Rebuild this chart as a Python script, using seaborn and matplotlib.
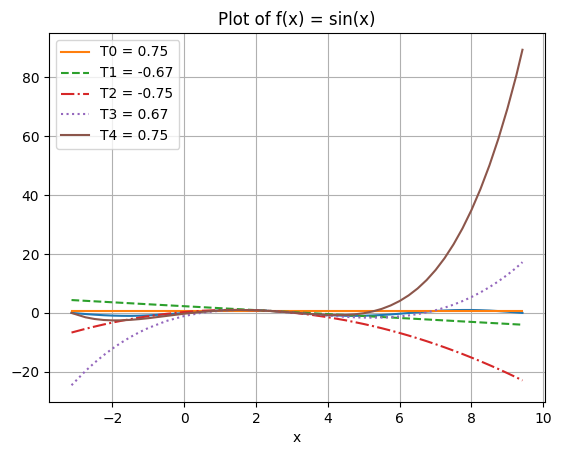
import matplotlib
matplotlib.use("Agg")
import matplotlib.pyplot as plt
import seaborn as sns

# x positions (from -pi to 3*pi)
x_vals = [-3.14, -2.75, -2.5, -2.25, -2.0, -1.75, -1.5, -1.25, -1.0,
          -0.5, 0.0, 0.5, 1.0, 1.5, 2.0, 2.5, 3.0, 3.5, 4.0, 4.5,
          4.75, 5.0, 5.25, 5.5, 5.75, 6.0, 6.25, 6.5, 6.75, 7.0,
          7.25, 7.5, 7.75, 8.0, 8.25, 8.5, 8.75, 9.0, 9.25, 9.42]

# f(x) = sin(x)
f_vals = [0.0, -0.38, -0.60, -0.78, -0.91, -0.98, -1.0, -0.95, -0.84,
          -0.48, 0.0, 0.48, 0.84, 1.0, 0.91, 0.60, 0.14, -0.35, -0.76, -0.98,
          -1.0, -0.96, -0.86, -0.71, -0.51, -0.28, -0.03, 0.22, 0.45, 0.66,
          0.82, 0.94, 0.99, 0.99, 0.92, 0.80, 0.62, 0.41, 0.17, 0.0]

# partial sums
t0_vals = [0.75] * len(x_vals)
t1_vals = [4.37, 4.11, 3.94, 3.78, 3.61, 3.44, 3.28, 3.11, 2.94,
           2.61, 2.28, 1.95, 1.61, 1.28, 0.95, 0.61, 0.28, -0.05, -0.39, -0.72,
           -0.89, -1.05, -1.22, -1.39, -1.55, -1.72, -1.89, -2.05, -2.22, -2.39,
           -2.55, -2.72, -2.89, -3.05, -3.22, -3.39, -3.55, -3.72, -3.89, -4.0]
t2_vals = [-6.67, -5.40, -4.65, -3.94, -3.28, -2.67, -2.11, -1.59, -1.12,
           -0.31, 0.31, 0.74, 0.98, 1.04, 0.91, 0.60, 0.10, -0.59, -1.46, -2.52,
           -3.13, -3.77, -4.47, -5.20, -5.99, -6.82, -7.70, -8.63, -9.60, -10.62,
           -11.69, -12.80, -13.96, -15.17, -16.42, -17.72, -19.06, -20.46, -21.90, -22.93]
t3_vals = [-24.56, -19.70, -16.93, -14.40, -12.11, -10.05, -8.20, -6.56, -5.11,
           -2.75, -1.05, 0.09, 0.74, 0.98, 0.91, 0.60, 0.13, -0.40, -0.92, -1.34,
           -1.49, -1.59, -1.61, -1.57, -1.43, -1.20, -0.86, -0.40, 0.18, 0.91,
           1.78, 2.81, 4.02, 5.40, 6.97, 8.75, 10.74, 12.94, 15.38, 17.24]
t4_vals = [-0.01, -1.49, -2.06, -2.40, -2.54, -2.52, -2.36, -2.11, -1.79,
           -1.03, -0.26, 0.38, 0.82, 1.0, 0.91, 0.60, 0.14, -0.34, -0.69, -0.69,
           -0.48, -0.10, 0.51, 1.37, 2.54, 4.05, 5.96, 8.31, 11.16, 14.57,
           18.59, 23.29, 28.72, 34.96, 42.07, 50.12, 59.20, 69.37, 80.71, 89.39]

labels = ["T0 = 0.75", "T1 = -0.67", "T2 = -0.75", "T3 = 0.67", "T4 = 0.75"]
series = [t0_vals, t1_vals, t2_vals, t3_vals, t4_vals]
colors = ["#ff7f0e", "#2ca02c", "#d62728", "#9467bd", "#8c564b"]
styles = ["-", "--", "-.", ":", "-"]

fig = plt.figure(figsize=(5.61, 4.55), dpi=100)
ax = fig.add_axes([0.0873, 0.1165, 0.8842, 0.811])

sns.lineplot(x=x_vals, y=f_vals, color="#1f77b4", ax=ax)
for vals, lab, col, ls in zip(series, labels, colors, styles):
    sns.lineplot(x=x_vals, y=vals, color=col, linestyle=ls, label=lab, ax=ax)

ax.set_title("Plot of f(x) = sin(x)")
ax.set_xlabel("x")
ax.grid(True)
ax.legend(loc="upper left")

fig.savefig("out.png", dpi=100)
